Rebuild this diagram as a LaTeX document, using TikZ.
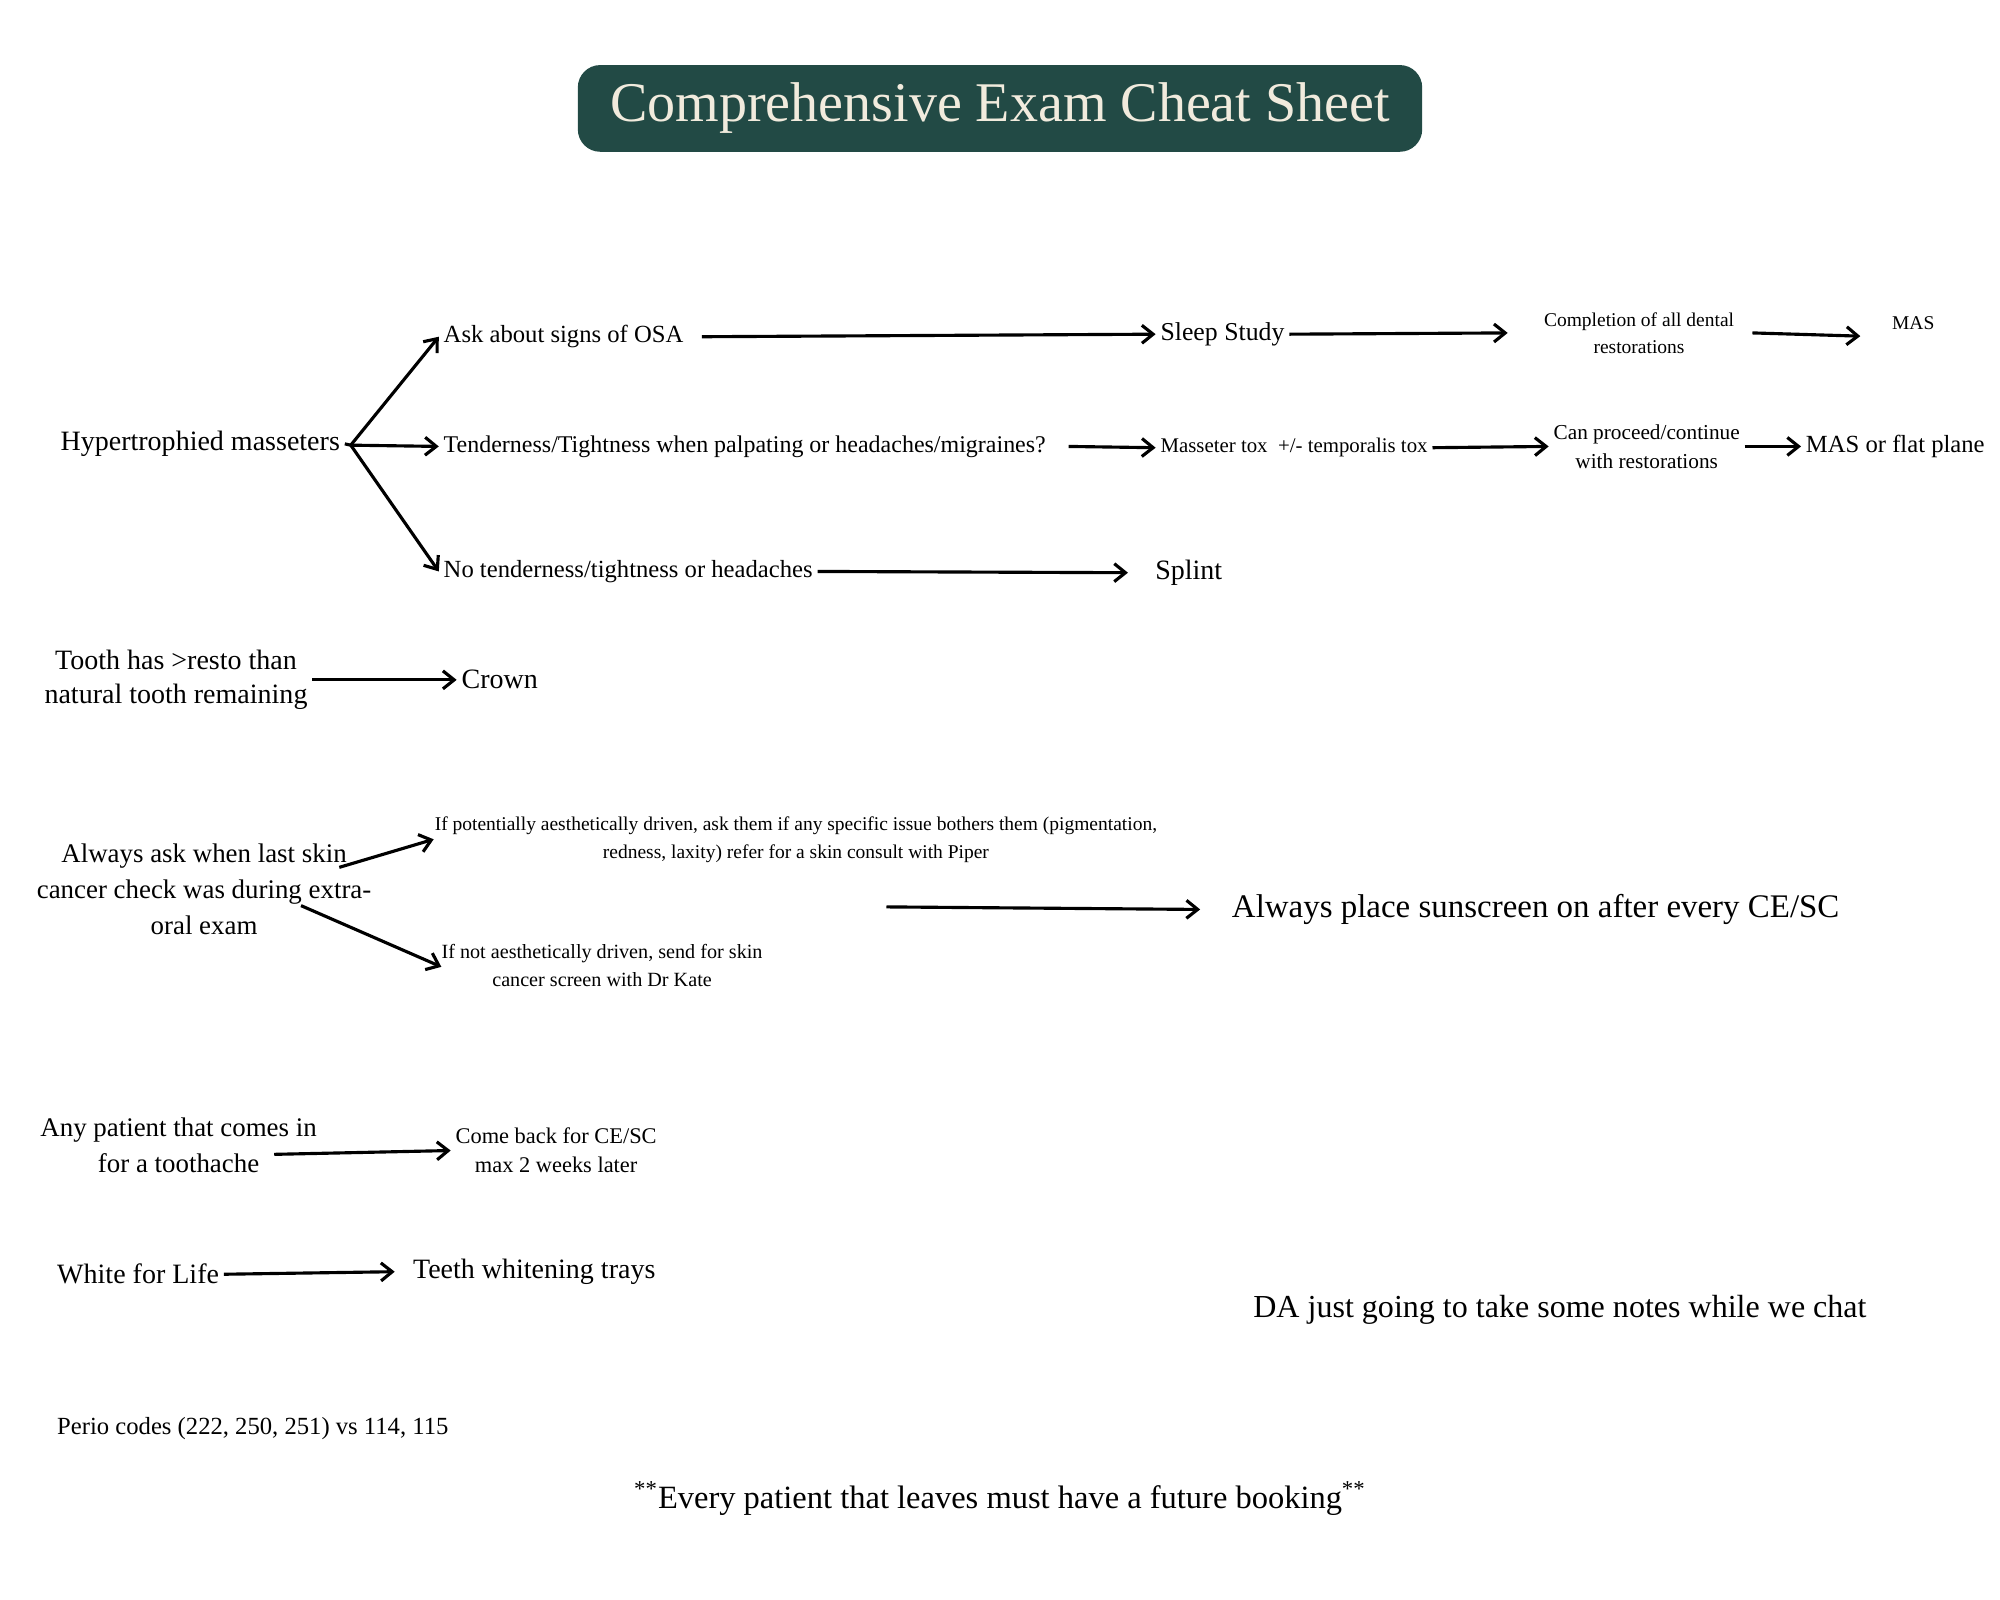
\documentclass[tikz,border=0pt]{standalone}
\usepackage{fontspec}
\setmainfont{Liberation Serif}
\usetikzlibrary{arrows.meta}
\definecolor{tgreen}{HTML}{224A45}
\definecolor{tcream}{HTML}{F1EBDD}
\begin{document}
\begin{tikzpicture}[x=0.02cm,y=-0.02cm,
  lbl/.style={inner sep=2pt,font=\fontsize{12.5}{15}\selectfont,align=center},
  sml/.style={inner sep=2pt,font=\fontsize{8.7}{12}\selectfont,align=center},
  arr/.style={line width=1.4pt,-{Straight Barb[length=5pt,width=8pt]}}]
\useasboundingbox[fill=white] (0,0) rectangle (1568,1254);
\node[fill=tgreen,rounded corners=10pt,minimum width=662*0.02cm,minimum height=68*0.02cm,text=tcream,font=\fontsize{25}{28}\selectfont] (title) at (784,85) {Comprehensive Exam Cheat Sheet};
\node[lbl] (hm) at (157,348) {Hypertrophied masseters};
\coordinate (br) at (275,349);
\node[lbl,anchor=west,font=\fontsize{11}{14}\selectfont] (osa) at (344,264) {Ask about signs of OSA};
\node[lbl,anchor=west,font=\fontsize{10.7}{14}\selectfont] (ten) at (344,350) {Tenderness/Tightness when palpating or headaches/migraines?};
\node[lbl,anchor=west,font=\fontsize{11}{14}\selectfont] (not) at (344,448) {No tenderness/tightness or headaches};
\draw[line width=1.4pt] (hm.east) -- (br);
\draw[arr] (br) -- (osa.west);
\draw[arr] (br) -- (ten.west);
\draw[arr] (br) -- (not.west);
\node[lbl,anchor=west,font=\fontsize{11.5}{14}\selectfont] (ss) at (906,262) {Sleep Study};
\node[sml] (comp) at (1285,261) {Completion of all dental\\restorations};
\node[sml] (mas) at (1500,253) {MAS};
\draw[arr] ([xshift=6pt]osa.east) -- (ss.west);
\draw[arr] (ss.east) -- ([xshift=-14pt]comp.west);
\draw[arr] ([xshift=6pt]comp.east) -- ([xshift=-12pt,yshift=-6pt]mas.west);
\node[sml,anchor=west,font=\fontsize{9.3}{12}\selectfont] (tox) at (906,351) {Masseter tox\ \ +/- temporalis tox};
\node[sml,font=\fontsize{9.5}{13}\selectfont] (cp) at (1291,350) {Can proceed/continue\\with restorations};
\node[lbl,anchor=west,font=\fontsize{11}{14}\selectfont] (flat) at (1412,350) {MAS or flat plane};
\draw[arr] ([xshift=8pt]ten.east) -- (tox.west);
\draw[arr] (tox.east) -- (cp.west);
\draw[arr] (cp.east) -- (flat.west);
\node[lbl] (sp) at (932,449) {Splint};
\draw[arr] (not.east) -- ([xshift=-10pt]sp.west);
\node[lbl] (th) at (138,533) {Tooth has >resto than\\natural tooth remaining};
\node[lbl,anchor=west] (cr) at (358,533) {Crown};
\draw[arr] (th.east) -- (cr.west);
\node[lbl,font=\fontsize{12}{16}\selectfont] (ask) at (160,697) {Always ask when last skin\\cancer check was during extra-\\oral exam};
\node[sml,font=\fontsize{8.7}{12.5}\selectfont] (aes) at (624,658) {If potentially aesthetically driven, ask them if any specific issue bothers them (pigmentation,\\redness, laxity) refer for a skin consult with Piper};
\node[sml,font=\fontsize{9}{12.5}\selectfont] (nae) at (472,757) {If not aesthetically driven, send for skin\\cancer screen with Dr Kate};
\draw[arr] (266,680) -- (340,658);
\draw[arr] (236,710) -- (346,758);
\coordinate (sa) at (695,711);
\node[inner sep=2pt,anchor=west,font=\fontsize{14.7}{18}\selectfont] (sun) at (962,713) {Always place sunscreen on after every CE/SC};
\draw[arr] (sa) -- ([xshift=-12pt]sun.west);
\node[lbl,font=\fontsize{12}{16}\selectfont] (any) at (140,898) {Any patient that comes in\\for a toothache};
\node[sml,font=\fontsize{10}{13}\selectfont] (cb) at (436,902) {Come back for CE/SC\\max 2 weeks later};
\coordinate (anyend) at (215,905);
\draw[arr] (anyend) -- (cb.west);
\node[lbl,anchor=west] (wfl) at (41,999) {White for Life};
\node[lbl,anchor=west] (twt) at (320,997) {Teeth whitening trays};
\draw[arr] (wfl.east) -- ([xshift=-6pt]twt.west);
\node[inner sep=2pt,font=\fontsize{14.3}{17}\selectfont] (da) at (1223,1027) {DA just going to take some notes while we chat};
\node[lbl,anchor=west,font=\fontsize{11}{14}\selectfont] (per) at (41,1120) {Perio codes (222, 250, 251) vs 114, 115};
\node[inner sep=2pt,font=\fontsize{14.5}{17}\selectfont] (eve) at (784,1175) {\textsuperscript{**}Every patient that leaves must have a future booking\textsuperscript{**}};
\end{tikzpicture}
\end{document}
